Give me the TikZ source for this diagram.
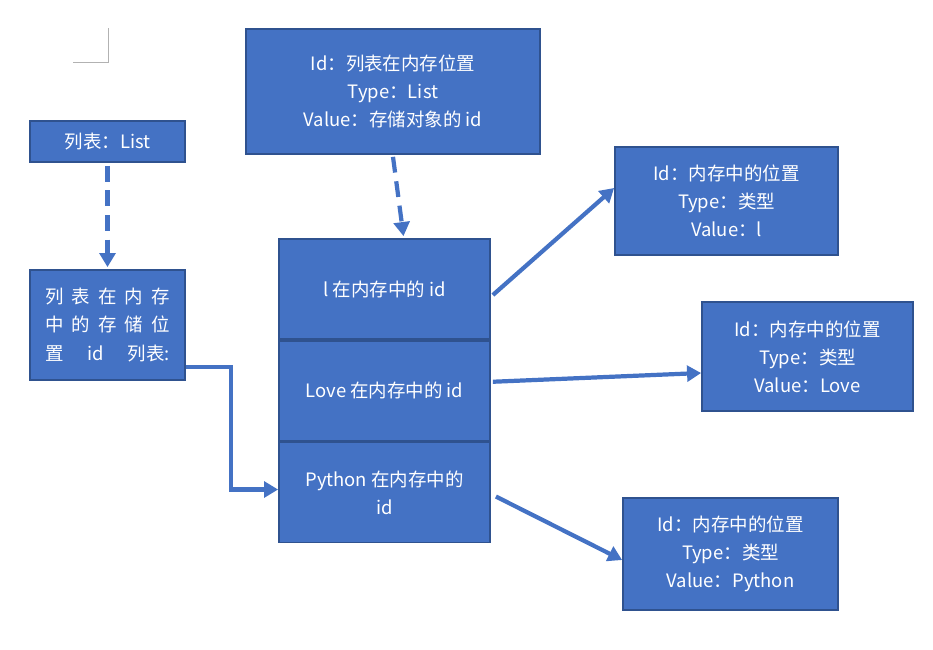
\documentclass[tikz,border=0pt]{standalone}
\usepackage{fontspec}
\setmainfont{Noto Sans CJK SC}
\usetikzlibrary{arrows.meta, positioning}
\definecolor{boxfill}{HTML}{4472C4}
\definecolor{boxline}{HTML}{2F528F}
\tikzset{
  memboxstyle/.style={draw=boxline, fill=boxfill, line width=1pt, text=white,
    align=center, inner sep=2pt, font=\fontsize{10.5}{16}\selectfont},
  linkarrow/.style={draw=boxfill, line width=2.4pt, -{Triangle[length=8pt,width=9pt]}},
  dasharrow/.style={linkarrow, dash pattern=on 9pt off 5pt}
}
\begin{document}
\begin{tikzpicture}
    \useasboundingbox (0,0) rectangle (18.66,-13);
    % page corner mark
    \draw[gray!60, line width=0.5pt] (1.46,-1.24) -- (2.16,-1.24) -- (2.16,-0.56);
    % left side
    \node[memboxstyle, minimum width=3.1cm, minimum height=0.82cm] (list) at (2.15,-2.83) {列表：List};
    \node[memboxstyle, minimum width=3.1cm, minimum height=2.2cm] (idbox) at (2.15,-6.5)
      {\makebox[2.5cm][s]{列 表 在 内 存}\\\makebox[2.5cm][s]{中 的 存 储 位}\\\makebox[2.5cm][s]{置 id 列表:}};
    % list object
    \node[memboxstyle, minimum width=5.88cm, minimum height=2.5cm] (top) at (7.86,-1.83)
      {Id：列表在内存位置\\Type：List\\Value：存储对象的 id};
    \node[memboxstyle, minimum width=4.22cm, minimum height=2cm] (c1) at (7.69,-5.78) {l 在内存中的 id};
    \node[memboxstyle, minimum width=4.22cm, minimum height=2cm, below=0pt of c1] (c2) {Love 在内存中的 id};
    \node[memboxstyle, minimum width=4.22cm, minimum height=2cm, below=0pt of c2] (c3) {Python 在内存中的\\id};
    % element objects
    \node[memboxstyle, minimum width=4.46cm, minimum height=2.16cm] (r1) at (14.53,-4.02)
      {Id：内存中的位置\\Type：类型\\Value：l};
    \node[memboxstyle, minimum width=4.22cm, minimum height=2.18cm] (r2) at (16.15,-7.13)
      {Id：内存中的位置\\Type：类型\\Value：Love};
    \node[memboxstyle, minimum width=4.3cm, minimum height=2.24cm] (r3) at (14.61,-11.08)
      {Id：内存中的位置\\Type：类型\\Value：Python};

    \draw[dasharrow] ([yshift=-0.06cm]list.south) -- ([yshift=0.04cm]idbox.north);
    \draw[dasharrow] ([yshift=-0.04cm]top.south) -- ([xshift=0.38cm,yshift=0.04cm]c1.north);
    \draw[linkarrow] ([xshift=0.04cm,yshift=-0.12cm]c1.east) -- ([yshift=0.26cm]r1.west);
    \draw[linkarrow] ([xshift=0.04cm,yshift=0.18cm]c2.east) -- ([yshift=-0.33cm]r2.west);
    \draw[linkarrow] ([xshift=0.1cm,yshift=-0.08cm]c3.east) -- ([yshift=-0.12cm]r3.west);
    \draw[linkarrow, -{Triangle[length=8pt,width=9pt]}] ([yshift=-0.84cm]idbox.east) -- ++(0.9,0) |- ([yshift=0.06cm]c3.west);
\end{tikzpicture}
\end{document}
